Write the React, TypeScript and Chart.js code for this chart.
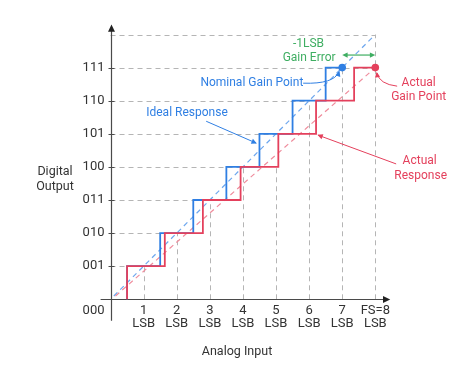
import React, { useEffect, useRef } from "react";
import { Chart, registerables } from "chart.js";

Chart.register(...registerables);

// ---- data (LSB units / output codes) ----
const codeLabels = ["000", "001", "010", "011", "100", "101", "110", "111"];
const inputTickValues = [1, 2, 3, 4, 5, 6, 7, 8];
const inputTickLabels = [["1", "LSB"], ["2", "LSB"], ["3", "LSB"], ["4", "LSB"], ["5", "LSB"], ["6", "LSB"], ["7", "LSB"], ["FS=8", "LSB"]];
const idealTransitions = [0.5, 1.5, 2.5, 3.5, 4.5, 5.5, 6.5];
const idealEndX = 7;
const actualTransitions = [0.5, 1.64, 2.79, 3.93, 5.07, 6.21, 7.36];
const actualEndX = 8;
const idealLine = [{ x: 0.1, y: 0.1 }, { x: 7.95, y: 7.95 }];
const actualLine = [{ x: 0.15, y: 0.1 }, { x: 8, y: 7 }];
const nominalGainPoint = [{ x: 7, y: 7 }];
const actualGainPoint = [{ x: 8, y: 7 }];
const gridLevels = [1, 2, 3, 4, 5, 6, 7, 8];
const gridLevelEnds = [1, 2, 3, 4, 5, 6, 8, 8];
const gridColumns = [1, 2, 3, 4, 5, 6, 7, 8];
const gridColumnTops = [1, 2, 3, 4, 4, 6, 7, 8];

const BLUE = "#2f7fe3";
const RED = "#e4405c";
const GREEN = "#3fae62";
const FONT = "Roboto, 'DejaVu Sans', sans-serif";

function stairs(trans: number[], endX: number) {
  const pts: { x: number; y: number }[] = [];
  trans.forEach((t, i) => {
    pts.push({ x: t, y: i });
    pts.push({ x: t, y: i + 1 });
  });
  pts.push({ x: endX, y: trans.length });
  return pts;
}

function arrowHead(ctx: CanvasRenderingContext2D, fx: number, fy: number, tx: number, ty: number, size: number, color: string) {
  const a = Math.atan2(ty - fy, tx - fx);
  ctx.save();
  ctx.fillStyle = color;
  ctx.beginPath();
  ctx.moveTo(tx, ty);
  ctx.lineTo(tx - size * Math.cos(a - 0.45), ty - size * Math.sin(a - 0.45));
  ctx.lineTo(tx - size * Math.cos(a + 0.45), ty - size * Math.sin(a + 0.45));
  ctx.closePath();
  ctx.fill();
  ctx.restore();
}

const drawPlugin = {
  id: "adcDecor",
  beforeDatasetsDraw(chart: any) {
    const ctx: CanvasRenderingContext2D = chart.ctx;
    const xs = chart.scales.x;
    const ys = chart.scales.y;
    const X = (v: number) => xs.getPixelForValue(v);
    const Y = (v: number) => ys.getPixelForValue(v);
    ctx.save();
    // grid
    ctx.strokeStyle = "#b5b5b5";
    ctx.lineWidth = 1;
    ctx.setLineDash([5, 4]);
    gridLevels.forEach((lv, i) => {
      ctx.beginPath();
      ctx.moveTo(X(0), Math.round(Y(lv)) + 0.5);
      ctx.lineTo(X(gridLevelEnds[i]), Math.round(Y(lv)) + 0.5);
      ctx.stroke();
    });
    gridColumns.forEach((c, i) => {
      ctx.beginPath();
      ctx.moveTo(Math.round(X(c)) + 0.5, Y(0));
      ctx.lineTo(Math.round(X(c)) + 0.5, Y(gridColumnTops[i]));
      ctx.stroke();
    });
    ctx.setLineDash([]);
    // axes
    ctx.strokeStyle = "#4a4a4a";
    ctx.lineWidth = 1.2;
    const ax = Math.round(X(0)) + 0.5;
    const ay = Math.round(Y(0)) + 0.5;
    ctx.beginPath();
    ctx.moveTo(ax, chart.chartArea.bottom);
    ctx.lineTo(ax, chart.chartArea.top + 4);
    ctx.moveTo(chart.chartArea.left, ay);
    ctx.lineTo(chart.chartArea.right - 4, ay);
    ctx.stroke();
    arrowHead(ctx, ax, ay, ax, chart.chartArea.top, 8, "#222");
    arrowHead(ctx, ax, ay, chart.chartArea.right, ay, 8, "#222");
    // ticks on y axis
    ctx.lineWidth = 1;
    for (let i = 1; i < codeLabels.length; i++) {
      ctx.beginPath();
      ctx.moveTo(ax - 3, Math.round(Y(i)) + 0.5);
      ctx.lineTo(ax + 3, Math.round(Y(i)) + 0.5);
      ctx.stroke();
    }
    // y labels
    ctx.fillStyle = "#333";
    ctx.font = `13px ${FONT}`;
    ctx.textAlign = "right";
    ctx.textBaseline = "middle";
    codeLabels.forEach((lab, i) => {
      const yy = i === 0 ? Y(0) + 11 : Y(i);
      ctx.fillText(lab, ax - 7, yy);
    });
    // x labels
    ctx.textAlign = "center";
    inputTickValues.forEach((v, i) => {
      const lines = inputTickLabels[i];
      ctx.fillText(lines[0], X(v), ay + 11);
      ctx.fillText(lines[1], X(v), ay + 24.5);
    });
    // axis titles
    ctx.font = `12.5px ${FONT}`;
    ctx.fillText("Digital", 55, 172);
    ctx.fillText("Output", 55, 187);
    ctx.fillText("Analog Input", 237, 352);
    ctx.restore();
  },
  afterDraw(chart: any) {
    const ctx: CanvasRenderingContext2D = chart.ctx;
    const xs = chart.scales.x;
    const ys = chart.scales.y;
    const X = (v: number) => xs.getPixelForValue(v);
    const Y = (v: number) => ys.getPixelForValue(v);
    ctx.save();
    ctx.textAlign = "center";
    ctx.textBaseline = "middle";
    ctx.font = `12px ${FONT}`;
    // gain error
    ctx.fillStyle = GREEN;
    ctx.fillText("-1LSB", X(5.98), Y(7.71));
    ctx.fillText("Gain Error", X(6.0), Y(7.29));
    ctx.strokeStyle = GREEN;
    ctx.lineWidth = 1.2;
    const gy = Y(7.38);
    ctx.beginPath();
    ctx.moveTo(X(7) + 3, gy);
    ctx.lineTo(X(8) - 3, gy);
    ctx.stroke();
    arrowHead(ctx, X(8), gy, X(7), gy, 6, GREEN);
    arrowHead(ctx, X(7), gy, X(8), gy, 6, GREEN);
    // nominal gain point
    ctx.fillStyle = BLUE;
    ctx.fillText("Nominal Gain Point", X(4.27), Y(6.53));
    ctx.fillText("Ideal Response", X(2.31), Y(5.63));
    ctx.strokeStyle = BLUE;
    ctx.lineWidth = 1;
    ctx.beginPath();
    ctx.moveTo(X(5.82), Y(6.53));
    ctx.quadraticCurveTo(X(6.75), Y(6.5), X(6.9), Y(6.87));
    ctx.stroke();
    arrowHead(ctx, X(6.8), Y(6.55), X(6.92), Y(6.9), 6, BLUE);
    ctx.beginPath();
    ctx.moveTo(X(2.89), Y(5.38));
    ctx.lineTo(X(4.4), Y(4.72));
    ctx.stroke();
    arrowHead(ctx, X(2.89), Y(5.38), X(4.42), Y(4.71), 6, BLUE);
    // actual
    ctx.fillStyle = RED;
    ctx.fillText("Actual", X(9.31), Y(6.53));
    ctx.fillText("Gain Point", X(9.31), Y(6.11));
    ctx.fillText("Actual", X(9.34), Y(4.18));
    ctx.fillText("Response", X(9.37), Y(3.72));
    ctx.strokeStyle = RED;
    ctx.beginPath();
    ctx.moveTo(X(8.66), Y(6.44));
    ctx.quadraticCurveTo(X(8.12), Y(6.5), X(8.05), Y(6.84));
    ctx.stroke();
    arrowHead(ctx, X(8.1), Y(6.5), X(8.04), Y(6.87), 6, RED);
    ctx.beginPath();
    ctx.moveTo(X(8.63), Y(4.09));
    ctx.lineTo(X(6.27), Y(4.96));
    ctx.stroke();
    arrowHead(ctx, X(8.63), Y(4.09), X(6.25), Y(4.97), 6, RED);
    ctx.restore();
  },
};

export default function App() {
  const ref = useRef<HTMLCanvasElement | null>(null);
  useEffect(() => {
    if (!ref.current) return;
    const chart = new Chart(ref.current, {
      type: "scatter",
      data: {
        datasets: [
          {
            label: "Ideal line",
            data: idealLine,
            showLine: true,
            borderColor: "#6ea7ee",
            borderWidth: 1.2,
            borderDash: [5, 4],
            pointRadius: 0,
            order: 5,
          },
          {
            label: "Actual line",
            data: actualLine,
            showLine: true,
            borderColor: "#ef8c9c",
            borderWidth: 1.2,
            borderDash: [5, 4],
            pointRadius: 0,
            order: 4,
          },
          {
            label: "Ideal Response",
            data: stairs(idealTransitions, idealEndX),
            showLine: true,
            borderColor: BLUE,
            borderWidth: 1.8,
            pointRadius: 0,
            order: 3,
          },
          {
            label: "Actual Response",
            data: stairs(actualTransitions, actualEndX),
            showLine: true,
            borderColor: RED,
            borderWidth: 1.8,
            pointRadius: 0,
            order: 2,
          },
          {
            label: "Nominal Gain Point",
            data: nominalGainPoint,
            pointRadius: 3.8,
            pointBackgroundColor: BLUE,
            pointBorderWidth: 0,
            order: 1,
          },
          {
            label: "Actual Gain Point",
            data: actualGainPoint,
            pointRadius: 3.8,
            pointBackgroundColor: RED,
            pointBorderWidth: 0,
            order: 0,
          },
        ],
      },
      options: {
        responsive: false,
        animation: false,
        layout: { padding: { left: 100.6, right: 83.8, top: 24.6, bottom: 61.2 } },
        plugins: { legend: { display: false }, tooltip: { enabled: false } },
        scales: {
          x: { type: "linear", min: -0.3, max: 8.45, display: false },
          y: { type: "linear", min: -0.65, max: 8.3, display: false },
        },
      },
      plugins: [drawPlugin],
    });
    return () => chart.destroy();
  }, []);
  return (
    <div style={{ position: "fixed", left: 0, top: 0, width: 474, height: 382, background: "#fff" }}>
      <canvas ref={ref} width={474} height={382} style={{ display: "block" }} />
    </div>
  );
}
